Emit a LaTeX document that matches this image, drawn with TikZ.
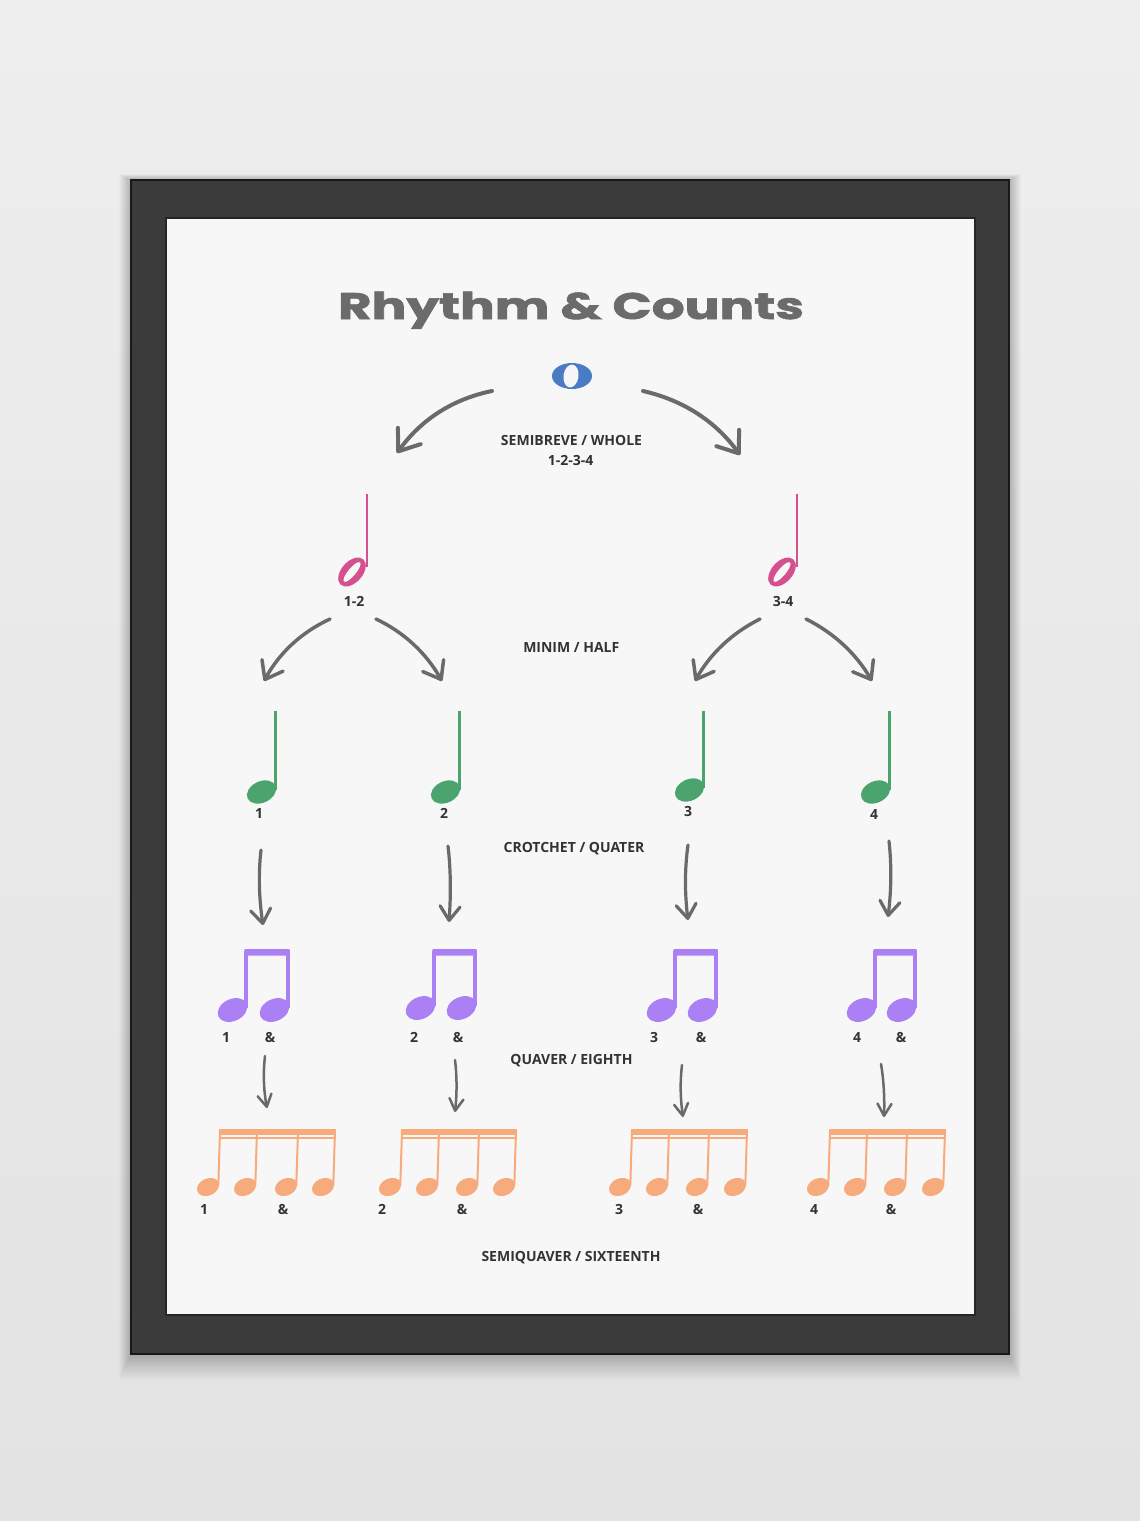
\documentclass[tikz,border=0pt]{standalone}
\usepackage{fontspec}
\usepackage{graphicx}
\usetikzlibrary{arrows.meta}
\newfontfamily\labfont{Open Sans}
\newfontfamily\titlefont{Poppins}[FakeBold=1.6]
\definecolor{bgtop}{HTML}{EEEEEE}
\definecolor{bgbot}{HTML}{E3E3E3}
\definecolor{framecol}{HTML}{3B3B3B}
\definecolor{paper}{HTML}{F7F7F7}
\definecolor{titlecol}{HTML}{6B6B6B}
\definecolor{txtcol}{HTML}{333333}
\definecolor{arrowgray}{HTML}{6A6A6A}
\definecolor{wholeblue}{HTML}{4A7CC4}
\definecolor{minimpink}{HTML}{D5508F}
\definecolor{crotgreen}{HTML}{4BA36E}
\definecolor{quavpurple}{HTML}{AB80F5}
\definecolor{semiorange}{HTML}{F7AA7B}
% crotchet: stem x, head centre y
\newcommand\mycrot[2]{%
  \fill[crotgreen, rotate around={25:(#1-13.5,#2)}] (#1-13.5,#2) ellipse (15.3 and 10.7);
  \draw[crotgreen, line width=3pt] (#1,711) -- (#1,#2-2);}
% minim: stem x, head centre y
\newcommand\myminim[2]{%
  \fill[minimpink, rotate around={48:(#1-15,#2)}] (#1-15,#2) ellipse (17 and 10.5);
  \fill[paper, rotate around={50:(#1-15,#2)}] (#1-15,#2) ellipse (12.5 and 3.8);
  \draw[minimpink, line width=2.7pt] (#1,494) -- (#1,#2-5);}
% quaver pair: left stem x, right stem x, head centre y
\newcommand\myquav[3]{%
  \fill[quavpurple, rotate around={25:(#1-13.5,#3)}] (#1-13.5,#3) ellipse (15.5 and 11);
  \fill[quavpurple, rotate around={25:(#2-13.5,#3)}] (#2-13.5,#3) ellipse (15.5 and 11);
  \draw[quavpurple, line width=3.5pt] (#1,951) -- (#1,#3-2);
  \draw[quavpurple, line width=3.5pt] (#2,951) -- (#2,#3-2);
  \fill[quavpurple, rounded corners=0.8pt] (#1-1.75,949) rectangle (#2+1.75,955.5);}
% semiquaver group: four head centre x
\newcommand\mysemihead[1]{%
  \fill[semiorange, rotate around={25:(#1,1187)}] (#1,1187) ellipse (11.5 and 8.5);
  \draw[semiorange, line width=2pt] (#1+12,1131) -- (#1+10.3,1185);}
\newcommand\mysemi[4]{%
  \mysemihead{#1}\mysemihead{#2}\mysemihead{#3}\mysemihead{#4}
  \fill[semiorange] (#1+11,1129) rectangle (#4+13,1135.3);
  \draw[semiorange, line width=1.4pt] (#1+11,1138) -- (#4+13,1138);}
\begin{document}
\begin{tikzpicture}[x=1pt,y=-1pt,
  lab/.style={font=\labfont\bfseries\fontsize{14}{16}\selectfont, text=txtcol, anchor=base, inner sep=0pt},
  bigarr/.style={draw=arrowgray, line width=4pt, line cap=round,
     -{Straight Barb[length=19pt,width=28pt,round]}},
  midarr/.style={draw=arrowgray, line width=3.5pt, line cap=round,
     -{Straight Barb[length=16pt,width=24pt,round]}},
  vertarr/.style={draw=arrowgray, line width=3.2pt, line cap=round,
     -{Straight Barb[length=14pt,width=20pt,round]}},
  thinarr/.style={draw=arrowgray, line width=2.5pt, line cap=round,
     -{Straight Barb[length=12pt,width=14pt,round]}}]
% background
\fill[top color=bgtop, bottom color=bgbot] (0,0) rectangle (1140,1521);
\useasboundingbox (0,0) rectangle (1140,1521);
% soft shadow
\foreach \i in {1,...,20}{
  \fill[black, opacity=0.012] (131-0.6*\i,180-0.3*\i) rectangle (1009+0.6*\i,1354+1.3*\i);}
% frame
\fill[framecol] (131,180) rectangle (1009,1354);
\draw[black!90, line width=1.5pt] (131,180) rectangle (1009,1354);
\fill[paper] (166,218) rectangle (975,1315);
\draw[black!85, line width=2pt] (166,218) rectangle (975,1315);
% title
\node[anchor=base, inner sep=0pt, text=titlecol] (title) at (571,319)
  {\resizebox{466pt}{\height}{\titlefont\bfseries\fontsize{37}{40}\selectfont Rhythm \& Counts}};
% whole note
\fill[wholeblue] (572,376) ellipse (20 and 13);
\fill[paper, rotate around={-8:(571,376)}] (571,376) ellipse (7.5 and 11.5);
\coordinate (whole) at (572,376);
\node[lab] (wlab) at (571.5,445.7) {SEMIBREVE / WHOLE};
\node[lab] (wcnt) at (570.5,465) {1-2-3-4};
% arrows level 1
\coordinate (a1s) at (492,391); \coordinate (a1e) at (397,453);
\coordinate (a2s) at (643,391); \coordinate (a2e) at (740,455);
\draw[bigarr] (a1s) .. controls (452.7,399) and (421,419.7) .. (a1e);
\draw[bigarr] (a2s) .. controls (683.7,400.3) and (716,421.7) .. (a2e);
% minims
\myminim{367}{572}
\myminim{797}{572}
\node[lab] (m1) at (354,606) {1-2};
\node[lab] (m2) at (783,606) {3-4};
\node[lab] (mlab) at (571.3,652.5) {MINIM / HALF};
% arrows level 2
\coordinate (b1s) at (330,619); \coordinate (b1e) at (264,681);
\coordinate (b2s) at (376,619); \coordinate (b2e) at (442,681);
\coordinate (b3s) at (760,619); \coordinate (b3e) at (695,681);
\coordinate (b4s) at (806,619); \coordinate (b4e) at (872,681);
\draw[midarr] (b1s) .. controls (301.3,632.3) and (279.3,653) .. (b1e);
\draw[midarr] (b2s) .. controls (404,632.3) and (426,653) .. (b2e);
\draw[midarr] (b3s) .. controls (732,633) and (710.3,653.7) .. (b3e);
\draw[midarr] (b4s) .. controls (834,633) and (856,653.7) .. (b4e);
% crotchets
\mycrot{275}{792}
\mycrot{459}{792}
\mycrot{703}{790}
\mycrot{889}{792}
\node[lab] (c1) at (259,818.5) {1};
\node[lab] (c2) at (444,818.5) {2};
\node[lab] (c3) at (688,816.5) {3};
\node[lab] (c4) at (874,819) {4};
\node[lab] (clab) at (574,852.5) {CROTCHET / QUATER};
% arrows level 3
\coordinate (c1s) at (261,850); \coordinate (c1e) at (263,925);
\coordinate (c2s) at (448,846); \coordinate (c2e) at (449,922);
\coordinate (c3s) at (688,845); \coordinate (c3e) at (688,920);
\coordinate (c4s) at (889,841); \coordinate (c4e) at (888,917);
\draw[vertarr] (c1s) .. controls (258.3,873.3) and (259,898.3) .. (c1e);
\draw[vertarr] (c2s) .. controls (450.7,868.7) and (451,893.3) .. (c2e);
\draw[vertarr] (c3s) .. controls (684.7,868.3) and (684.7,893.3) .. (c3e);
\draw[vertarr] (c4s) .. controls (891.7,865.7) and (891.3,890.3) .. (c4e);
% quavers
\myquav{246}{288}{1010}
\myquav{434}{475}{1008}
\myquav{675}{716}{1010}
\myquav{875}{915}{1010}
\node[lab] (q1a) at (226,1042.5) {1};
\node[lab] (q1b) at (270,1042.5) {\&};
\node[lab] (q2a) at (414,1042.5) {2};
\node[lab] (q2b) at (458,1042.5) {\&};
\node[lab] (q3a) at (654,1042.5) {3};
\node[lab] (q3b) at (701,1042.5) {\&};
\node[lab] (q4a) at (857,1042.5) {4};
\node[lab] (q4b) at (901,1042.5) {\&};
\node[lab] (qlab) at (571.5,1064) {QUAVER / EIGHTH};
% arrows level 4
\coordinate (d1s) at (265,1056); \coordinate (d1e) at (267,1108);
\coordinate (d2s) at (455,1060); \coordinate (d2e) at (455,1112);
\coordinate (d3s) at (682,1065); \coordinate (d3e) at (683,1117);
\coordinate (d4s) at (881,1064); \coordinate (d4e) at (884,1117);
\draw[thinarr] (d1s) .. controls (263,1073.3) and (263.7,1090.7) .. (d1e);
\draw[thinarr] (d2s) .. controls (457,1076.7) and (457,1094) .. (d2e);
\draw[thinarr] (d3s) .. controls (680,1081.7) and (680.3,1098.3) .. (d3e);
\draw[thinarr] (d4s) .. controls (883.7,1080) and (884.7,1097.7) .. (d4e);
% semiquavers
\mysemi{208}{245}{286}{323}
\mysemi{390}{427}{467}{504}
\mysemi{620}{657}{697}{735}
\mysemi{818}{855}{895}{933}
\node[lab] (s1a) at (204,1214) {1};
\node[lab] (s1b) at (283,1214) {\&};
\node[lab] (s2a) at (382,1214) {2};
\node[lab] (s2b) at (462,1214) {\&};
\node[lab] (s3a) at (619,1214) {3};
\node[lab] (s3b) at (698,1214) {\&};
\node[lab] (s4a) at (814,1214) {4};
\node[lab] (s4b) at (891,1214) {\&};
\node[lab] (slab) at (571,1261.5) {SEMIQUAVER / SIXTEENTH};
\end{tikzpicture}
\end{document}
